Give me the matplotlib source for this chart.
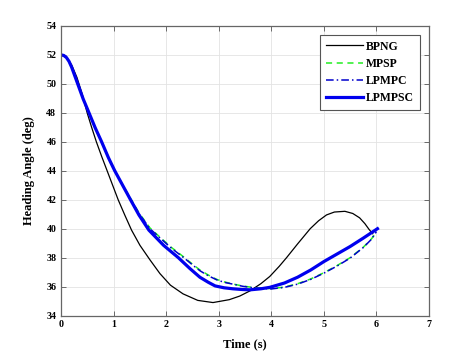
import matplotlib
matplotlib.use("Agg")
import matplotlib.pyplot as plt

plt.rcParams["font.family"] = "serif"
plt.rcParams["font.serif"] = ["Liberation Serif", "DejaVu Serif"]
plt.rcParams["font.weight"] = "bold"

# readings (time in s, heading angle in deg)
t_bpng = [0.0, 0.1, 0.2, 0.3, 0.4, 0.495, 0.58, 0.67, 0.77, 0.875, 0.98, 1.085, 1.21,
          1.34, 1.5, 1.69, 1.88, 2.08, 2.32, 2.6, 2.89, 3.2, 3.4, 3.59, 3.8, 3.97,
          4.15, 4.29, 4.5, 4.74, 4.9, 5.05, 5.2, 5.4, 5.55, 5.68, 5.78, 5.86, 5.93]
h_bpng = [52.0, 51.85, 51.3, 50.45, 49.3, 48.0, 47.0, 46.0, 45.0, 44.0, 43.0, 42.0, 40.95,
          39.9, 38.85, 37.85, 36.9, 36.1, 35.5, 35.05, 34.9, 35.1, 35.35, 35.7, 36.2, 36.7,
          37.4, 38.0, 38.95, 40.0, 40.55, 40.95, 41.15, 41.2, 41.05, 40.75, 40.35, 39.95,
          39.65]

t_mpsp = [0.0, 0.05, 0.1, 0.15, 0.2, 0.25, 0.31, 0.42, 0.53, 0.65, 0.77, 0.9, 1.02, 1.17,
          1.32, 1.48, 1.69, 1.9, 2.1, 2.35, 2.5, 2.64, 2.8, 2.96, 3.1, 3.27, 3.46, 3.7,
          4.0, 4.25, 4.5, 4.75, 5.0, 5.25, 5.5, 5.75, 5.9, 6.0]
h_mpsp = [52.0, 51.96, 51.82, 51.55, 51.15, 50.65, 50.05, 48.95, 48.0, 46.95, 46.0, 44.9,
          44.0, 43.02, 42.1, 41.1, 40.05, 39.35, 38.7, 38.0, 37.55, 37.15, 36.8, 36.5, 36.33,
          36.18, 36.04, 35.92, 35.86, 35.97, 36.2, 36.53, 36.96, 37.45, 38.0, 38.72, 39.27,
          39.75]

t_lpmpc = [0.0, 0.05, 0.1, 0.15, 0.2, 0.25, 0.31, 0.42, 0.53, 0.65, 0.77, 0.9, 1.02, 1.17,
           1.32, 1.48, 1.69, 1.9, 2.1, 2.35, 2.5, 2.64, 2.8, 2.96, 3.1, 3.27, 3.46, 3.7,
           4.0, 4.25, 4.5, 4.75, 5.0, 5.25, 5.5, 5.75, 5.9, 6.0]
h_lpmpc = [52.0, 51.96, 51.82, 51.55, 51.15, 50.65, 50.05, 48.95, 48.0, 46.95, 46.0, 44.9,
           44.0, 43.0, 42.05, 41.05, 40.0, 39.3, 38.65, 37.95, 37.5, 37.1, 36.75, 36.47, 36.3,
           36.17, 36.02, 35.9, 35.84, 35.95, 36.17, 36.5, 36.93, 37.42, 37.97, 38.7, 39.25,
           39.8]

t_lpmpsc = [0.0, 0.05, 0.1, 0.15, 0.2, 0.25, 0.31, 0.42, 0.53, 0.65, 0.77, 0.9, 1.02, 1.17,
            1.32, 1.48, 1.67, 1.95, 2.23, 2.45, 2.64, 2.8, 2.93, 3.1, 3.27, 3.45, 3.6, 3.8,
            3.97, 4.25, 4.5, 4.75, 5.0, 5.25, 5.5, 5.75, 6.02]
h_lpmpsc = [52.0, 51.96, 51.82, 51.55, 51.15, 50.65, 50.05, 48.95, 48.0, 46.95, 46.0, 44.9,
            44.0, 43.0, 42.0, 40.95, 39.9, 38.85, 38.0, 37.25, 36.65, 36.3, 36.05, 35.92,
            35.85, 35.8, 35.78, 35.85, 35.95, 36.25, 36.65, 37.15, 37.73, 38.25, 38.77, 39.35,
            40.0]

xticks = [0, 1, 2, 3, 4, 5, 6, 7]
yticks = [34, 36, 38, 40, 42, 44, 46, 48, 50, 52, 54]

fig = plt.figure(figsize=(4.74, 3.55), dpi=100)
ax = fig.add_axes([0.129, 0.111, 0.776, 0.816])

ax.plot(t_bpng, h_bpng, color="black", lw=0.9, label="BPNG")
ax.plot(t_mpsp, h_mpsp, color="#22ee22", lw=1.1, ls=(0, (4, 3)), label="MPSP")
ax.plot(t_lpmpc, h_lpmpc, color="#0000cc", lw=1.1, ls=(0, (5, 2, 1, 2)), label="LPMPC")
ax.plot(t_lpmpsc, h_lpmpsc, color="#0000ee", lw=2.3, label="LPMPSC")

ax.set_xlim(0, 7)
ax.set_ylim(34, 54)
ax.set_xticks(xticks)
ax.set_yticks(yticks)
ax.grid(True, color="#e3e3e3", lw=0.6)
ax.set_axisbelow(True)
ax.tick_params(direction="in", length=3.5, width=0.6, colors="#555555",
               labelcolor="black", labelsize=7.2, top=True, right=True)
for s in ax.spines.values():
    s.set_color("#666666")
    s.set_linewidth(0.9)

ax.set_xlabel("Time (s)", fontsize=9, fontweight="bold", labelpad=6)
ax.set_ylabel("Heading Angle (deg)", fontsize=9, fontweight="bold", labelpad=8)

leg = ax.legend(loc="upper right", bbox_to_anchor=(0.976, 0.97), borderaxespad=0,
                fontsize=8.5, fancybox=False, framealpha=1, edgecolor="#555555",
                handlelength=3.1, borderpad=0.5, labelspacing=0.45, handletextpad=0.3)
leg.get_frame().set_linewidth(0.8)
for txt in leg.get_texts():
    txt.set_fontweight("bold")

fig.savefig("out.png", dpi=100)
